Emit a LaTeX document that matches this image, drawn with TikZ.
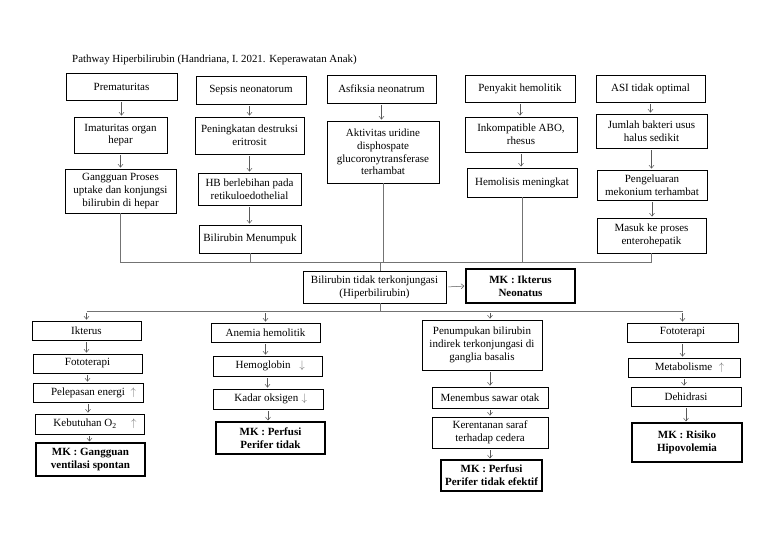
\documentclass[tikz,border=0pt]{standalone}
\usepackage{fontspec}
\setmainfont{Liberation Serif}
\usetikzlibrary{arrows.meta}
\begin{document}
\begin{tikzpicture}[x=1pt,y=-1pt,
  box/.style={draw=black,line width=0.9pt,align=center,inner sep=1pt,font=\fontsize{11}{12.8}\selectfont},
  lbox/.style={box,line width=0.8pt},
  mkbox/.style={box,line width=1.1pt,font=\fontsize{11}{12.8}\selectfont\bfseries},
  sz/.style 2 args={minimum width=#1pt,minimum height=#2pt},
  arr/.style={draw=black!65,line width=0.5pt,-{Straight Barb[length=3pt,width=5pt]},shorten <=2pt,shorten >=1pt},
  bus/.style={draw=black!55,line width=0.7pt}]
\useasboundingbox[fill=white] (0,0) rectangle (768,543);
\newcommand{\upa}{{\color{black!55}$\uparrow$}}
\newcommand{\dna}{{\color{black!55}$\downarrow$}}

\node[anchor=west,font=\fontsize{10.9}{12.8}\selectfont,inner sep=0pt] (title) at (72,60) {Pathway Hiperbilirubin (Handriana, I. 2021. Keperawatan Anak)};

% top columns
\node[box,sz={111}{27}] (prem) at (121.5,86.5) {Prematuritas};
\node[box,sz={93}{36}] (imat) at (120.5,135) {Imaturitas organ\\hepar};
\node[box,sz={111}{44}] (gang) at (120.5,191) {Gangguan Proses\\uptake dan konjungsi\\bilirubin di hepar};

\node[box,sz={110}{28}] (seps) at (251,90) {Sepsis neonatorum};
\node[box,sz={109}{37}] (pening) at (249.5,135.5) {Peningkatan destruksi\\eritrosit};
\node[box,sz={103}{32}] (hb) at (249.5,189) {HB berlebihan pada\\retikuloedothelial};
\node[box,sz={102}{28}] (bmen) at (250,239) {Bilirubin Menumpuk};

\node[box,sz={109}{28}] (asf) at (381.5,89) {Asfiksia neonatrum};
\node[box,sz={112}{62}] (akt) at (383,152) {Aktivitas uridine\\disphospate\\glucoronytransferase\\terhambat};

\node[box,sz={110}{27}] (peny) at (520,88.5) {Penyakit hemolitik};
\node[box,sz={112}{35}] (inko) at (521,134.5) {Inkompatible ABO,\\rhesus};
\node[box,sz={110}{29}] (hemo) at (522,182.5) {Hemolisis meningkat};

\node[box,sz={109}{27}] (asi) at (650.5,88.5) {ASI tidak optimal};
\node[box,sz={111}{34}] (juml) at (651.5,131) {Jumlah bakteri usus\\halus sedikit};
\node[box,sz={110}{30}] (peng) at (652,185) {Pengeluaran\\mekonium terhambat};
\node[box,sz={109}{35}] (masuk) at (651.5,235.5) {Masuk ke proses\\enterohepatik};

% center
\node[box,sz={143}{32}] (center) at (374.5,287) {Bilirubin tidak terkonjungasi\\(Hiperbilirubin)};
\node[mkbox,sz={109}{34}] (mk0) at (520.5,286) {MK : Ikterus\\Neonatus};

% lower col 1
\node[lbox,sz={109}{19}] (ikt) at (86.5,330.5) {Ikterus};
\node[lbox,sz={109}{19}] (fot1) at (87.5,363.5) {Fototerapi};
\node[lbox,sz={110}{19}] (pel) at (88,392.5) {\hspace{1em}Pelepasan energi\hspace{0.5em}\upa};
\node[lbox,sz={109}{20}] (keb) at (89.5,424) {\hspace{1em}Kebutuhan O\textsubscript{2}\hspace{1.3em}\upa};
\node[mkbox,sz={109}{33}] (mk1) at (90.5,459.5) {MK : Gangguan\\ventilasi spontan};

% lower col 2
\node[lbox,sz={109}{19}] (anem) at (265.5,332.5) {Anemia hemolitik};
\node[lbox,sz={109}{20}] (hgb) at (267.5,366) {\hspace{0.5em}Hemoglobin\hspace{0.8em}\dna};
\node[lbox,sz={110}{20}] (kad) at (268,399) {\hspace{0.5em}Kadar oksigen\hspace{0.3em}\dna};
\node[mkbox,sz={109}{32}] (mk2) at (270.5,438) {MK : Perfusi\\Perifer tidak};

% lower col 3
\node[lbox,sz={120}{50}] (penu) at (482,345) {Penumpukan bilirubin\\indirek terkonjungasi di\\ganglia basalis};
\node[lbox,sz={116}{21}] (mene) at (490,397.5) {Menembus sawar otak};
\node[lbox,sz={116}{31}] (kere) at (490,432.5) {Kerentanan saraf\\terhadap cedera};
\node[mkbox,sz={101}{31}] (mk3) at (491.5,475.5) {MK : Perfusi\\Perifer tidak efektif};

% lower col 4
\node[lbox,sz={111}{19}] (fot2) at (682.5,332.5) {Fototerapi};
\node[lbox,sz={112}{19}] (meta) at (684,367.5) {\hspace{1em}Metabolisme\hspace{0.6em}\upa};
\node[lbox,sz={110}{19}] (dehi) at (686,396.5) {Dehidrasi};
\node[mkbox,sz={110}{39}] (mk4) at (687,442.5) {MK : Risiko\\Hipovolemia};

\coordinate (topbus) at (380,262);
\coordinate (botbus) at (380,311);

% top arrows
\draw[arr] (prem.south) -- (prem.south |- imat.north);
\draw[arr] (imat.south) -- (imat.south |- gang.north);
\draw[arr] (seps.south -| pening.north) -- (pening.north);
\draw[arr] (pening.south) -- (pening.south |- hb.north);
\draw[arr] (hb.south) -- (hb.south |- bmen.north);
\draw[arr] (asf.south) -- (asf.south |- akt.north);
\draw[arr] (peny.south) -- (peny.south |- inko.north);
\draw[arr] (inko.south) -- (inko.south |- hemo.north);
\draw[arr] (asi.south) -- (asi.south |- juml.north);
\draw[arr] (juml.south) -- (juml.south |- peng.north);
\draw[arr] (peng.south) -- (peng.south |- masuk.north);

% collector
\draw[bus] (gang.south) -- (gang.south |- topbus) -- (masuk.south |- topbus) -- (masuk.south);
\draw[bus] (bmen.south) -- (bmen.south |- topbus);
\draw[bus] (akt.south) -- (akt.south |- topbus);
\draw[bus] (hemo.south) -- (hemo.south |- topbus);
\draw[bus] (topbus) -- (topbus |- center.north);
\draw[arr] (center.east) -- (mk0.west);

% distributor
\draw[bus] (botbus |- center.south) -- (botbus);
\draw[bus] (botbus -| ikt.north) -- (botbus -| fot2.north);
\draw[arr] (botbus -| ikt.north) -- (ikt.north);
\draw[arr] (botbus -| anem.north) -- (anem.north);
\draw[arr] (botbus -| mene.north) -- (mene.north |- penu.north);
\draw[arr] (botbus -| fot2.north) -- (fot2.north);

% lower arrows
\draw[arr] (ikt.south) -- (ikt.south |- fot1.north);
\draw[arr] (fot1.south) -- (fot1.south |- pel.north);
\draw[arr] (pel.south) -- (pel.south |- keb.north);
\draw[arr] (keb.south) -- (keb.south |- mk1.north);
\draw[arr] (anem.south) -- (anem.south |- hgb.north);
\draw[arr] (hgb.south) -- (hgb.south |- kad.north);
\draw[arr] (kad.south) -- (kad.south |- mk2.north);
\draw[arr] (mene.north |- penu.south) -- (mene.north);
\draw[arr] (mene.south) -- (mene.south |- kere.north);
\draw[arr] (kere.south) -- (kere.south |- mk3.north);
\draw[arr] (fot2.south) -- (fot2.south |- meta.north);
\draw[arr] (meta.south) -- (meta.south |- dehi.north);
\draw[arr] (dehi.south) -- (dehi.south |- mk4.north);
\end{tikzpicture}
\end{document}
